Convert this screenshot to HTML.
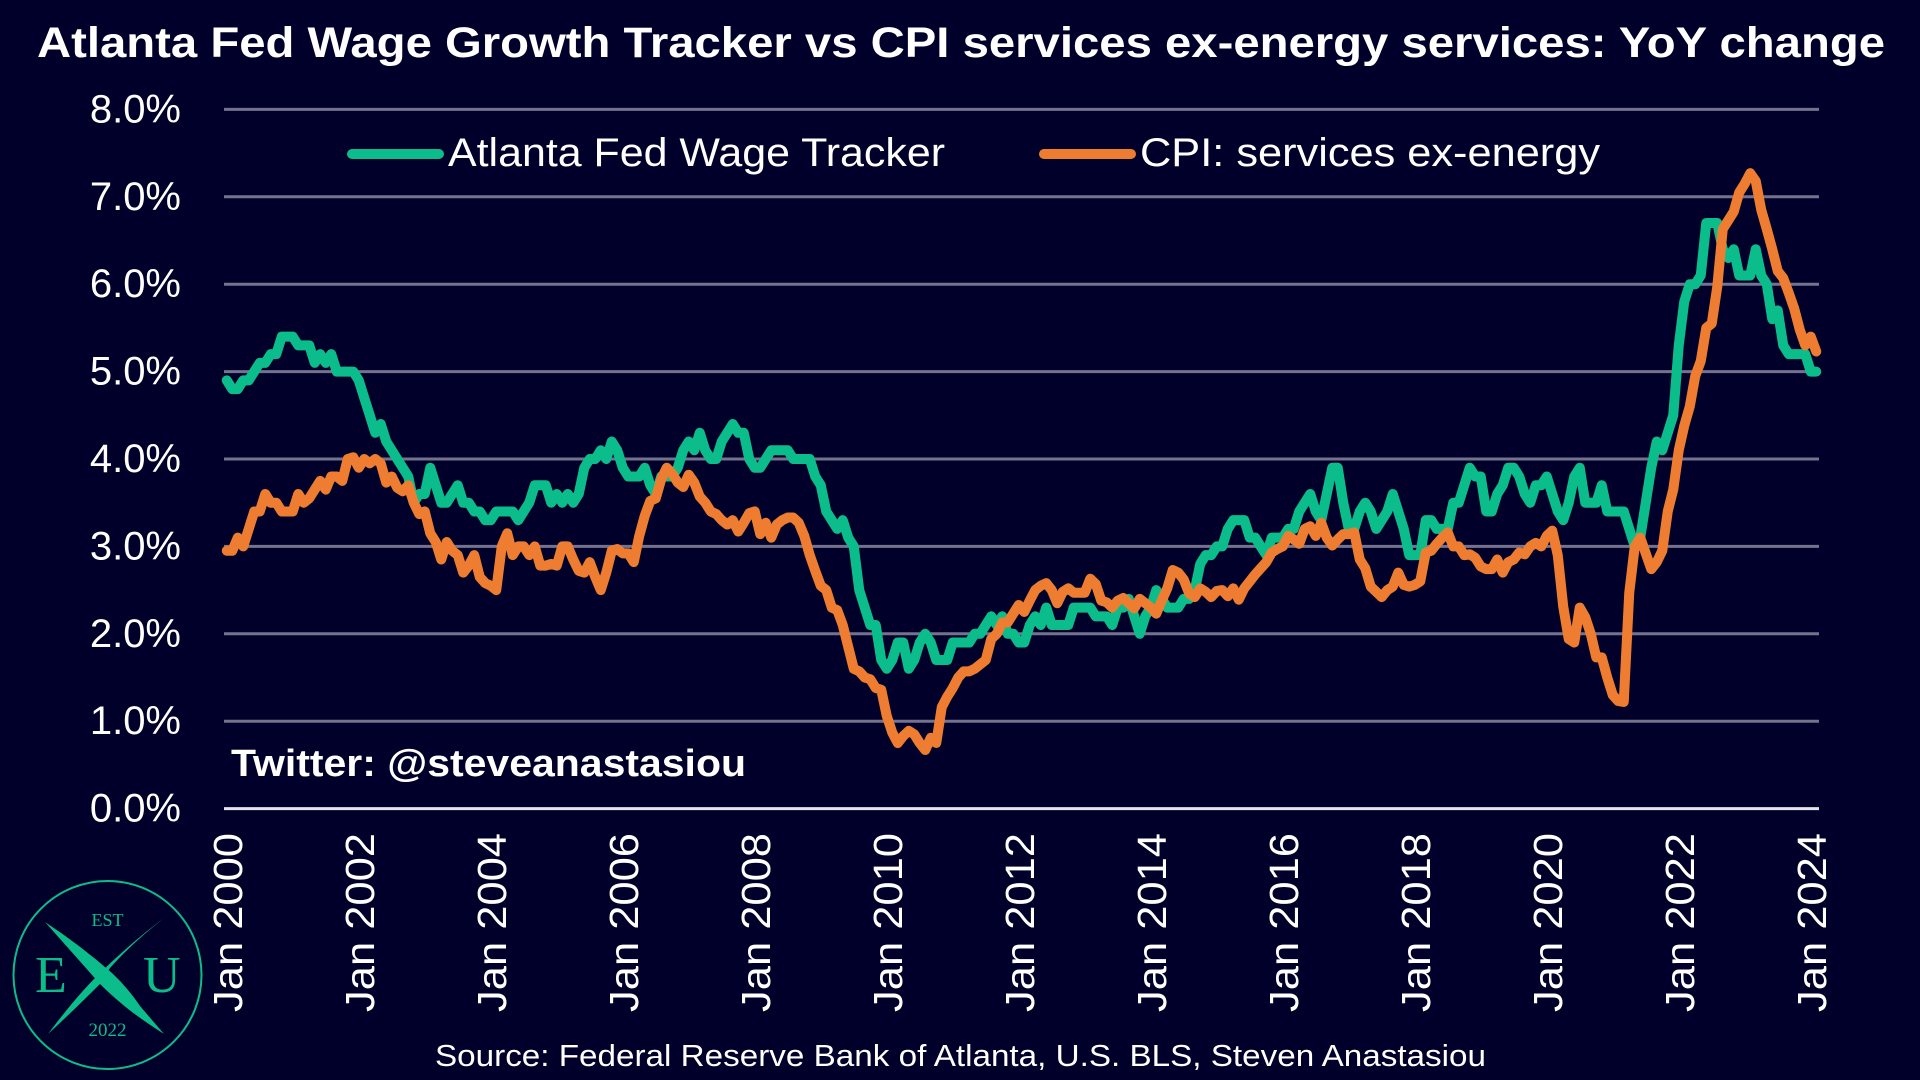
<!DOCTYPE html>
<html lang="en">
<head>
<meta charset="utf-8">
<title>Atlanta Fed Wage Growth Tracker vs CPI services ex-energy services</title>
<style>
  html,body{margin:0;padding:0;background:#00002a;}
  body{width:1920px;height:1080px;overflow:hidden;}
  svg{display:block;}
  text{font-family:"Liberation Sans",sans-serif;fill:#fff;}
  .serif{font-family:"Liberation Serif",serif;fill:#0bbd8b;}
</style>
</head>
<body>
<svg id="chart" xmlns="http://www.w3.org/2000/svg" width="1920" height="1080" viewBox="0 0 1920 1080">
  <rect width="1920" height="1080" fill="#00002a"/>
  <text x="37" y="57" font-size="43" font-weight="700" textLength="1848" lengthAdjust="spacingAndGlyphs">Atlanta Fed Wage Growth Tracker vs CPI services ex-energy services: YoY change</text>
  <g id="grid"></g>
  <g id="y-axis"></g>
  <g id="x-axis"></g>
  <g id="series"></g>
  <g>
    <g>
      <line x1="352" y1="154" x2="439" y2="154" stroke="#0bbd8b" stroke-width="10" stroke-linecap="round"/>
      <text x="448" y="166" font-size="40" textLength="497" lengthAdjust="spacingAndGlyphs">Atlanta Fed Wage Tracker</text>
    </g>
    <g>
      <line x1="1044" y1="154" x2="1131" y2="154" stroke="#ee7d31" stroke-width="10" stroke-linecap="round"/>
      <text x="1140" y="166" font-size="40" textLength="460" lengthAdjust="spacingAndGlyphs">CPI: services ex-energy</text>
    </g>
  </g>
  <text x="231" y="776" font-size="38" font-weight="700" textLength="515" lengthAdjust="spacingAndGlyphs">Twitter: @steveanastasiou</text>
  <text x="435" y="1066" font-size="31" textLength="1051" lengthAdjust="spacingAndGlyphs">Source: Federal Reserve Bank of Atlanta, U.S. BLS, Steven Anastasiou</text>
  <g>
    <circle cx="107.5" cy="975" r="94" fill="none" stroke="#0bbd8b" stroke-width="2"/>
    <path d="M45 922 Q80 945 112 973 Q128 988 140 1006 L164 1034 Q136 1016 122 1004 Q110 994 100 984 Q70 950 45 922Z" fill="#0bbd8b"/>
    <path d="M164 918 Q130 945 110 968 L100 984 Q72 1012 48 1034 Q75 998 97 976 Q128 945 164 918Z" fill="#0bbd8b"/>
    <text class="serif" x="35" y="992" font-size="52">E</text>
    <text class="serif" x="143" y="992" font-size="52">U</text>
    <text class="serif" x="107.5" y="926" font-size="18" text-anchor="middle">EST</text>
    <text class="serif" x="107.5" y="1036" font-size="19" text-anchor="middle">2022</text>
  </g>
</svg>
<script>
const yTickValues = [0,1,2,3,4,5,6,7,8];
const xTickLabels = ["Jan 2000","Jan 2002","Jan 2004","Jan 2006","Jan 2008","Jan 2010","Jan 2012","Jan 2014","Jan 2016","Jan 2018","Jan 2020","Jan 2022","Jan 2024"];
const monthsBetweenXTicks = 24;
const wageTracker = [
4.9,4.8,4.8,4.9,4.9,5.0,5.1,5.1,5.2,5.2,5.4,5.4,
5.4,5.3,5.3,5.3,5.1,5.2,5.1,5.2,5.0,5.0,5.0,5.0,
4.9,4.7,4.5,4.3,4.4,4.2,4.1,4.0,3.9,3.8,3.5,3.6,
3.6,3.9,3.7,3.5,3.5,3.6,3.7,3.5,3.5,3.4,3.4,3.3,
3.3,3.4,3.4,3.4,3.4,3.3,3.4,3.5,3.7,3.7,3.7,3.5,
3.6,3.5,3.6,3.5,3.6,3.9,4.0,4.0,4.1,4.0,4.2,4.1,
3.9,3.8,3.8,3.8,3.9,3.7,3.6,3.8,3.8,3.8,3.9,4.1,
4.2,4.1,4.3,4.1,4.0,4.0,4.2,4.3,4.4,4.3,4.3,4.0,
3.9,3.9,4.0,4.1,4.1,4.1,4.1,4.0,4.0,4.0,4.0,3.8,
3.7,3.4,3.3,3.2,3.3,3.1,3.0,2.5,2.3,2.1,2.1,1.7,
1.6,1.7,1.9,1.9,1.6,1.7,1.9,2.0,1.9,1.7,1.7,1.7,
1.9,1.9,1.9,1.9,2.0,2.0,2.1,2.2,2.1,2.2,2.0,2.0,
1.9,1.9,2.1,2.2,2.1,2.3,2.1,2.1,2.1,2.1,2.3,2.3,
2.3,2.3,2.2,2.2,2.2,2.1,2.3,2.3,2.4,2.2,2.0,2.2,
2.3,2.5,2.4,2.3,2.3,2.3,2.4,2.4,2.5,2.8,2.9,2.9,
3.0,3.0,3.2,3.3,3.3,3.3,3.1,3.1,3.0,2.9,3.1,3.1,
3.1,3.2,3.2,3.4,3.5,3.6,3.4,3.3,3.6,3.9,3.9,3.5,
3.2,3.2,3.4,3.5,3.4,3.2,3.3,3.4,3.6,3.4,3.2,2.9,
2.9,2.9,3.3,3.3,3.2,3.2,3.2,3.5,3.5,3.7,3.9,3.8,
3.8,3.4,3.4,3.6,3.7,3.9,3.9,3.8,3.6,3.5,3.7,3.7,
3.8,3.6,3.4,3.3,3.5,3.8,3.9,3.5,3.5,3.5,3.7,3.4,
3.4,3.4,3.4,3.2,3.0,3.1,3.5,3.9,4.2,4.1,4.3,4.5,
5.3,5.8,6.0,6.0,6.1,6.7,6.7,6.7,6.4,6.3,6.4,6.1,
6.1,6.1,6.4,6.1,6.0,5.6,5.7,5.3,5.2,5.2,5.2,5.2,
5.0,5.0
];
const cpiServices = [
2.95,2.95,3.1,3.0,3.2,3.4,3.4,3.6,3.5,3.5,3.4,3.4,
3.4,3.6,3.5,3.55,3.65,3.75,3.65,3.8,3.8,3.75,4.0,4.02,
3.9,4.0,3.95,4.0,3.95,3.73,3.8,3.67,3.63,3.7,3.5,3.37,
3.4,3.15,3.05,2.85,3.05,2.95,2.9,2.7,2.78,2.9,2.65,2.58,
2.55,2.5,3.0,3.15,2.9,3.0,3.0,2.9,3.0,2.78,2.78,2.8,
2.78,3.0,3.0,2.85,2.72,2.7,2.82,2.65,2.5,2.7,2.95,2.97,
2.92,2.92,2.82,3.12,3.35,3.52,3.55,3.77,3.9,3.83,3.73,3.68,
3.82,3.73,3.57,3.5,3.4,3.37,3.3,3.25,3.3,3.17,3.27,3.38,
3.4,3.14,3.27,3.1,3.25,3.3,3.33,3.33,3.27,3.12,2.9,2.72,
2.55,2.5,2.3,2.27,2.1,1.85,1.6,1.57,1.5,1.48,1.38,1.36,
1.06,0.87,0.75,0.83,0.89,0.85,0.75,0.67,0.81,0.75,1.16,1.28,
1.38,1.5,1.57,1.57,1.6,1.65,1.7,1.94,2.0,2.13,2.13,2.23,
2.33,2.25,2.38,2.5,2.55,2.58,2.5,2.35,2.48,2.52,2.47,2.47,
2.47,2.63,2.57,2.38,2.36,2.3,2.38,2.41,2.35,2.29,2.4,2.35,
2.3,2.23,2.38,2.52,2.73,2.7,2.62,2.46,2.42,2.52,2.48,2.42,
2.49,2.5,2.43,2.52,2.39,2.52,2.6,2.68,2.75,2.82,2.93,2.97,
3.0,3.12,3.08,3.03,3.2,3.23,3.12,3.27,3.1,3.01,3.08,3.14,
3.14,3.16,2.85,2.75,2.54,2.48,2.42,2.5,2.54,2.7,2.56,2.54,
2.56,2.6,2.93,2.95,3.03,3.1,3.16,3.0,3.0,2.9,2.91,2.87,
2.77,2.74,2.74,2.85,2.7,2.82,2.85,2.93,2.91,3.0,3.04,3.0,
3.12,3.18,2.9,2.31,1.94,1.9,2.3,2.19,2.0,1.73,1.73,1.5,
1.3,1.23,1.22,2.47,3.0,3.1,2.92,2.74,2.82,2.95,3.4,3.65,
4.1,4.38,4.6,4.95,5.12,5.5,5.55,5.97,6.63,6.73,6.83,7.05,
7.15,7.27,7.18,6.85,6.63,6.4,6.15,6.07,5.9,5.72,5.48,5.3,
5.4,5.23
];

const SVG_NS = 'http://www.w3.org/2000/svg';
const plotLeft = 224, plotRight = 1819, plotBottom = 808.6, pxPerPoint = 87.4;
const bandWidth = (plotRight - plotLeft) / wageTracker.length;
function xScale(i){ return plotLeft + (i + 0.5) * bandWidth; }
function yScale(v){ return plotBottom - v * pxPerPoint; }

const grid = document.getElementById('grid');
const yAxis = document.getElementById('y-axis');
const xAxis = document.getElementById('x-axis');
const series = document.getElementById('series');

yTickValues.forEach(function(v){
  const line = document.createElementNS(SVG_NS, 'line');
  
  
  line.setAttribute('x1', plotLeft);
  line.setAttribute('x2', plotRight);
  line.setAttribute('y1', yScale(v));
  line.setAttribute('y2', yScale(v));
  line.setAttribute('stroke', v === 0 ? '#e4e4ea' : '#74728c');
  line.setAttribute('stroke-width', '3');
  grid.appendChild(line);

  const label = document.createElementNS(SVG_NS, 'text');
  
  
  label.setAttribute('x', 181);
  label.setAttribute('y', yScale(v) + 13);
  label.setAttribute('font-size', '40');
  label.setAttribute('text-anchor', 'end');
  label.textContent = v.toFixed(1) + '%';
  yAxis.appendChild(label);
});

xTickLabels.forEach(function(t, k){
  const x = xScale(k * monthsBetweenXTicks) + 1;
  const label = document.createElementNS(SVG_NS, 'text');
  
  
  label.setAttribute('x', 0);
  label.setAttribute('y', 0);
  label.setAttribute('font-size', '41');
  label.setAttribute('text-anchor', 'end');
  label.setAttribute('textLength', '179');
  label.setAttribute('lengthAdjust', 'spacingAndGlyphs');
  label.setAttribute('transform', 'translate(' + (x + 14) + ',833) rotate(-90)');
  label.textContent = t;
  xAxis.appendChild(label);
});

function drawLine(values, color, name){
  const d = values.map(function(v, i){
    return (i ? 'L' : 'M') + xScale(i).toFixed(2) + ' ' + yScale(v).toFixed(2);
  }).join(' ');
  const path = document.createElementNS(SVG_NS, 'path');
  
  
  path.setAttribute('d', d);
  path.setAttribute('fill', 'none');
  path.setAttribute('stroke', color);
  path.setAttribute('stroke-width', '10');
  path.setAttribute('stroke-linejoin', 'round');
  path.setAttribute('stroke-linecap', 'round');
  series.appendChild(path);
}
drawLine(wageTracker, '#0bbd8b', 'wage-tracker-line');
drawLine(cpiServices, '#ee7d31', 'cpi-services-line');
</script>
</body>
</html>
